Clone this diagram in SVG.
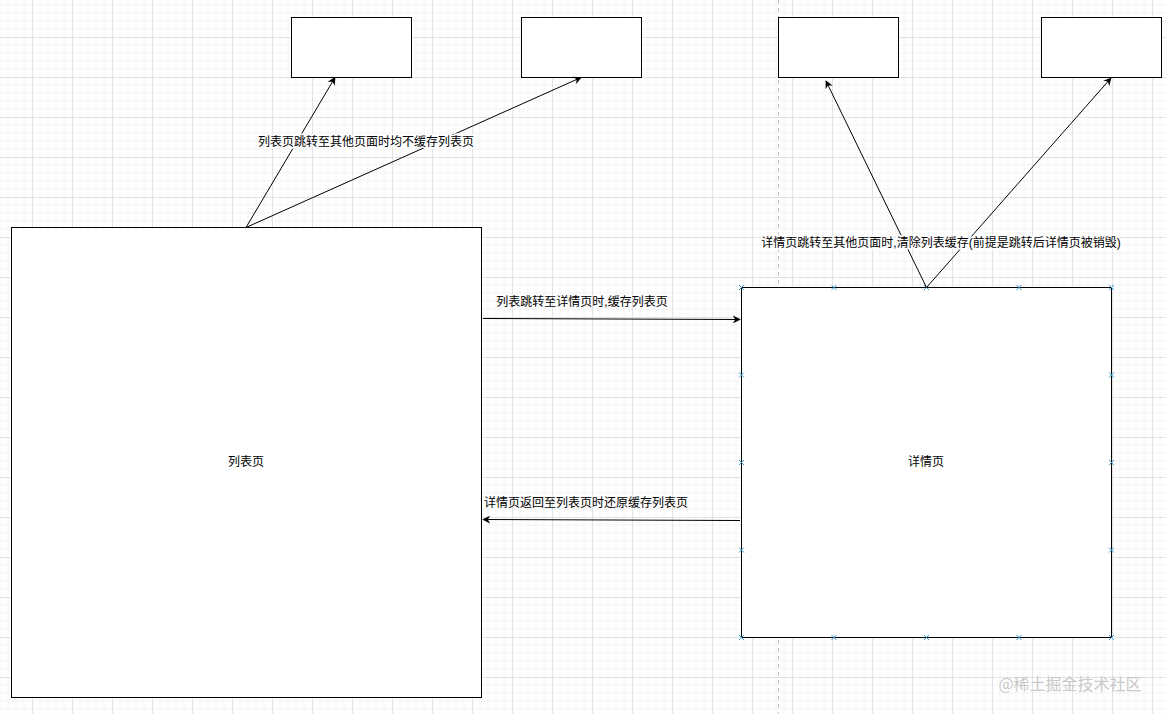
<svg xmlns="http://www.w3.org/2000/svg" width="1166" height="714" viewBox="0 0 1166 714">
<style>
.n{fill:#fff;stroke:#000;stroke-width:1}
.t{font-family:"Liberation Sans","Noto Sans CJK SC",sans-serif;font-size:12px;fill:#000}
.c{stroke:#000;stroke-width:1;fill:none;marker-end:url(#a)}
.x{stroke:#3a9fd0;stroke-width:1}
</style>
<defs>
<marker id="a" viewBox="0 0 10 10" refX="9" refY="5" markerWidth="8" markerHeight="8" orient="auto" markerUnits="userSpaceOnUse"><path d="M0,0 L10,5 L0,10 L3,5 Z" fill="#000"/></marker>
<pattern id="g" x="32" y="37" width="40" height="40" patternUnits="userSpaceOnUse">
<path d="M8,0V40M16,0V40M24,0V40M32,0V40M0,8H40M0,16H40M0,24H40M0,32H40" stroke="#f3f3f3" stroke-width="1"/>
<path d="M0.5,0V40M0,0.5H40" stroke="#e2e2e2" stroke-width="1"/>
</pattern>
<g id="xm"><path class="x" d="M-2.5,-2.5L2.5,2.5M-2.5,2.5L2.5,-2.5"/></g>
</defs>
<rect width="1166" height="714" fill="#fff"/>
<rect width="1166" height="714" fill="url(#g)"/>
<line x1="778.5" y1="0" x2="778.5" y2="714" stroke="#c8c8c8" stroke-dasharray="4,4"/>
<g id="b1"><rect class="n" x="291.5" y="17.5" width="120" height="60"/></g>
<g id="b2"><rect class="n" x="521.5" y="17.5" width="120" height="60"/></g>
<g id="b3"><rect class="n" x="778.5" y="17.5" width="120" height="60"/></g>
<g id="b4"><rect class="n" x="1041.5" y="17.5" width="120" height="60"/></g>
<g id="list"><rect class="n" x="11.5" y="227.5" width="470" height="470"/><text class="t" x="246" y="466" text-anchor="middle">列表页</text></g>
<g id="detail"><rect class="n" x="741.5" y="287.5" width="370" height="350"/><text class="t" x="926" y="466" text-anchor="middle">详情页</text>
<use href="#xm" x="741.5" y="287.5"/><use href="#xm" x="834" y="287.5"/><use href="#xm" x="926.5" y="287.5"/><use href="#xm" x="1019" y="287.5"/><use href="#xm" x="1111.5" y="287.5"/>
<use href="#xm" x="741.5" y="637.5"/><use href="#xm" x="834" y="637.5"/><use href="#xm" x="926.5" y="637.5"/><use href="#xm" x="1019" y="637.5"/><use href="#xm" x="1111.5" y="637.5"/>
<use href="#xm" x="741.5" y="375"/><use href="#xm" x="741.5" y="462.5"/><use href="#xm" x="741.5" y="550"/>
<use href="#xm" x="1111.5" y="375"/><use href="#xm" x="1111.5" y="462.5"/><use href="#xm" x="1111.5" y="550"/>
</g>
<g id="connectors">
<path class="c" d="M246,227.5L335,77.5"/>
<path class="c" d="M246,227.5L581,77.5"/>
<path class="c" d="M926.5,287.5L826,81"/>
<path class="c" d="M926.5,287.5L1111,78"/>
<path class="c" d="M483,318.5L740,319.5"/>
<path class="c" d="M740,520.5L483,519.5"/>
<text class="t" x="366" y="146" text-anchor="middle" style="paint-order:stroke" stroke="#fff" stroke-width="3">列表页跳转至其他页面时均不缓存列表页</text>
<text class="t" x="941" y="247" text-anchor="middle" style="paint-order:stroke" stroke="#fff" stroke-width="3">详情页跳转至其他页面时,清除列表缓存(前提是跳转后详情页被销毁)</text>
<text class="t" x="582" y="306" text-anchor="middle">列表跳转至详情页时,缓存列表页</text>
<text class="t" x="586" y="507" text-anchor="middle">详情页返回至列表页时还原缓存列表页</text>
</g>
<text x="1070" y="690" text-anchor="middle" font-family="'Noto Sans CJK SC',sans-serif" font-size="16" fill="#c9c9c9">@稀土掘金技术社区</text>
</svg>
